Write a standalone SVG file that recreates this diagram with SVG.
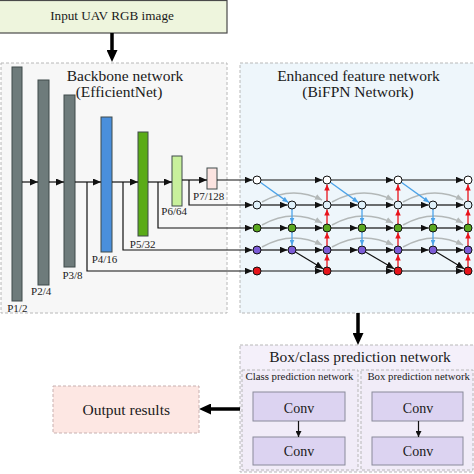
<svg xmlns="http://www.w3.org/2000/svg" width="474" height="474" viewBox="0 0 474 474">
<style>
.t{font-family:"Liberation Serif","Times New Roman",serif;fill:#1a1a1a;text-anchor:middle}
.ttl{font-size:15.5px}
.pl{font-size:11px}
.sub{font-size:10.8px}
.ln{stroke:#111;stroke-width:1.2;fill:none;marker-end:url(#ah)}
.bl{stroke:#4da3e8;stroke-width:1.3;fill:none;marker-end:url(#ahb)}
.rd{stroke:#e8141c;stroke-width:1.3;fill:none;marker-end:url(#ahr)}
.gy{stroke:#b3b8b8;stroke-width:1.6;fill:none;marker-end:url(#ahg)}
.thick{stroke:#000;stroke-width:3.5;fill:none;marker-end:url(#big)}
.cv{stroke:#111;stroke-width:1.2;fill:none;marker-end:url(#ahs)}
.nd{stroke:#111;stroke-width:1}
.w{fill:#ffffff}.lb{fill:#e0f1fa}.g{fill:#5aa81f}.pu{fill:#7b5bd6}.r{fill:#e5141b}
.bar{stroke:#3f4a4a;stroke-width:1}
.grey{fill:#6e7b7b}
.dash{stroke:#b8b8b8;stroke-width:1;stroke-dasharray:3 2}
.conv{fill:#dcd3f1;stroke:#8a8a9a;stroke-width:1}
</style>
<defs>
<marker id="ah" viewBox="0 0 8 7" markerWidth="8" markerHeight="7" refX="8" refY="3.5" orient="auto" markerUnits="userSpaceOnUse"><path d="M0,0 L8,3.5 L0,7z" fill="#111"/></marker>
<marker id="ahs" viewBox="0 0 6 6" markerWidth="6" markerHeight="6" refX="6" refY="3" orient="auto" markerUnits="userSpaceOnUse"><path d="M0,0 L6,3 L0,6z" fill="#111"/></marker>
<marker id="ahb" viewBox="0 0 6 5" markerWidth="6" markerHeight="5" refX="6" refY="2.5" orient="auto" markerUnits="userSpaceOnUse"><path d="M0,0 L6,2.5 L0,5z" fill="#4da3e8"/></marker>
<marker id="ahr" viewBox="0 0 6 5.5" markerWidth="6" markerHeight="5.5" refX="6" refY="2.75" orient="auto" markerUnits="userSpaceOnUse"><path d="M0,0 L6,2.75 L0,5.5z" fill="#e8141c"/></marker>
<marker id="ahg" viewBox="0 0 7 6" markerWidth="7" markerHeight="6" refX="7" refY="3" orient="auto" markerUnits="userSpaceOnUse"><path d="M0,0 L7,3 L0,6z" fill="#b3b8b8"/></marker>
<marker id="big" viewBox="0 0 12 11" markerWidth="12" markerHeight="11" refX="4" refY="5.5" orient="auto" markerUnits="userSpaceOnUse"><path d="M0,0 L12,5.5 L0,11z" fill="#000"/></marker>
</defs>
<rect width="474" height="474" fill="#ffffff"/>

<g id="input">
<rect x="-5" y="0.5" width="232" height="32.5" fill="#eef5dd" stroke="#4a4a4a" stroke-width="1.2"/>
<text class="t" x="112" y="19.5" font-size="13.2">Input UAV RGB image</text>
</g>

<g id="backbone">
<rect x="1" y="63" width="226" height="250" fill="#f7f7f7" class="dash"/>
<text class="t ttl" x="125" y="81">Backbone network</text>
<text class="t ttl" x="119" y="97">(EfficientNet)</text>
</g>

<g id="bifpn">
<rect x="240" y="63" width="240" height="250" fill="#eef6fb" class="dash"/>
<text class="t ttl" x="358.5" y="81">Enhanced feature network</text>
<text class="t ttl" x="358" y="97">(BiFPN Network)</text>
</g>

<g id="p1"><rect class="bar grey" x="12" y="67" width="10" height="234"/><text class="t pl" x="17.3" y="312">P1/2</text></g>
<g id="p2"><rect class="bar grey" x="38" y="80" width="11" height="205"/><text class="t pl" x="41.2" y="294.5">P2/4</text></g>
<g id="p3"><rect class="bar grey" x="64" y="95" width="11" height="172"/><text class="t pl" x="72.5" y="279">P3/8</text></g>
<g id="p4"><rect class="bar" x="101" y="117" width="11" height="135" fill="#4a8fdc" stroke="#2b5b93"/><text class="t pl" x="104.5" y="262.5">P4/16</text></g>
<g id="p5"><rect class="bar" x="138" y="132" width="10" height="104" fill="#5aab17" stroke="#3a7010"/><text class="t pl" x="142.7" y="247.5">P5/32</text></g>
<g id="p6"><rect class="bar" x="172" y="156" width="10" height="50" fill="#c8f09c" stroke="#6a9a40"/><text class="t pl" x="174.2" y="215">P6/64</text></g>
<g id="p7"><rect class="bar" x="207" y="168" width="10" height="21" fill="#fbe3e0" stroke="#777"/><text class="t pl" x="208.7" y="200">P7/128</text></g>

<g id="prediction">
<rect x="240" y="345" width="240" height="127" fill="#f4f0fa" class="dash"/>
<text class="t ttl" x="360" y="361.5">Box/class prediction network</text>
</g>
<g id="class-net">
<rect x="242" y="370" width="116" height="100" fill="#f1ecf8" class="dash"/>
<text class="t sub" x="299.5" y="379.5">Class prediction network</text>
</g>
<g id="box-net">
<rect x="361" y="370" width="112" height="100" fill="#f1ecf8" class="dash"/>
<text class="t sub" x="418.7" y="379.5">Box prediction network</text>
</g>
<g id="conv-c1"><rect class="conv" x="253" y="392" width="92" height="29"/><text class="t" x="299" y="412.5" font-size="14">Conv</text></g>
<g id="conv-c2"><rect class="conv" x="253" y="437" width="92" height="28"/><text class="t" x="299" y="455.5" font-size="14">Conv</text></g>
<g id="conv-b1"><rect class="conv" x="372" y="392" width="91" height="29"/><text class="t" x="418" y="412.5" font-size="14">Conv</text></g>
<g id="conv-b2"><rect class="conv" x="372" y="437" width="91" height="28"/><text class="t" x="418" y="455.5" font-size="14">Conv</text></g>

<g id="output">
<rect x="53" y="386" width="146" height="47" fill="#fde7e3" stroke="#c8b0b0" stroke-width="1" stroke-dasharray="3 2"/>
<text class="t ttl" x="126.3" y="415">Output results</text>
</g>

<g id="connectors">
<path class="thick" d="M112 33 V54"/>
<path class="thick" d="M358 313 V337"/>
<path class="thick" d="M240 409 H207"/>
<path class="cv" d="M298.5 421 V437"/>
<path class="cv" d="M418.5 421 V437"/>

<path class="ln" d="M22 182 H38"/>
<path class="ln" d="M49 182 H64"/>
<path class="ln" d="M75 182 H101"/>
<path class="ln" d="M112 182 H138"/>
<path class="ln" d="M148 182 H172"/>
<path class="ln" d="M182 180 H207"/>
<path class="ln" d="M217 180 H252.5"/>
<path class="ln" d="M189 180 V205 H252.5"/>
<path class="ln" d="M158 182 V228 H252.5"/>
<path class="ln" d="M123 182 V250 H252.5"/>
<path class="ln" d="M87 182 V271 H252.5"/>

<!-- block 0: 257 / 292 / 327 -->
<path class="gy" d="M262 202 Q292 185 322 200"/>
<path class="gy" d="M262 225 Q292 208 322 223"/>
<path class="gy" d="M262 247 Q292 230 322 245"/>
<path class="ln" d="M261 180 H322.5"/>
<path class="ln" d="M261 205 H287.5"/><path class="ln" d="M296 205 H322.5"/>
<path class="ln" d="M261 228 H287.5"/><path class="ln" d="M296 228 H322.5"/>
<path class="ln" d="M261 250 H287.5"/><path class="ln" d="M296 250 H322.5"/>
<path class="ln" d="M261 271 H322.5"/>
<path class="bl" d="M260.3 182.3 L288.3 202.4"/>
<path class="bl" d="M292 209 V223.5"/>
<path class="bl" d="M292 232 V245.5"/>
<path class="ln" d="M295.4 252.1 L323.1 268.7"/>
<path class="rd" d="M327 267 V254.5"/>
<path class="rd" d="M327 246 V232.5"/>
<path class="rd" d="M327 224 V209.5"/>
<path class="rd" d="M327 201 V184.5"/>

<!-- block 1: 327 / 362 / 398 -->
<path class="gy" d="M332 202 Q362 185 393 200"/>
<path class="gy" d="M332 225 Q362 208 393 223"/>
<path class="gy" d="M332 247 Q362 230 393 245"/>
<path class="ln" d="M331 180 H393.5"/>
<path class="ln" d="M331 205 H357.5"/><path class="ln" d="M366 205 H393.5"/>
<path class="ln" d="M331 228 H357.5"/><path class="ln" d="M366 228 H393.5"/>
<path class="ln" d="M331 250 H357.5"/><path class="ln" d="M366 250 H393.5"/>
<path class="ln" d="M331 271 H393.5"/>
<path class="bl" d="M330.3 182.3 L358.3 202.4"/>
<path class="bl" d="M362 209 V223.5"/>
<path class="bl" d="M362 232 V245.5"/>
<path class="ln" d="M365.5 252 L394.1 268.7"/>
<path class="rd" d="M398 267 V254.5"/>
<path class="rd" d="M398 246 V232.5"/>
<path class="rd" d="M398 224 V209.5"/>
<path class="rd" d="M398 201 V184.5"/>

<!-- block 2: 398 / 433 / 468 -->
<path class="gy" d="M403 202 Q433 185 463 200"/>
<path class="gy" d="M403 225 Q433 208 463 223"/>
<path class="gy" d="M403 247 Q433 230 463 245"/>
<path class="ln" d="M402 180 H463.5"/>
<path class="ln" d="M402 205 H428.5"/><path class="ln" d="M437 205 H463.5"/>
<path class="ln" d="M402 228 H428.5"/><path class="ln" d="M437 228 H463.5"/>
<path class="ln" d="M402 250 H428.5"/><path class="ln" d="M437 250 H463.5"/>
<path class="ln" d="M402 271 H463.5"/>
<path class="bl" d="M401.3 182.3 L429.3 202.4"/>
<path class="bl" d="M433 209 V223.5"/>
<path class="bl" d="M433 232 V245.5"/>
<path class="ln" d="M436.4 252.1 L464.1 268.7"/>
<path class="rd" d="M468 267 V254.5"/>
<path class="rd" d="M468 246 V232.5"/>
<path class="rd" d="M468 224 V209.5"/>
<path class="rd" d="M468 201 V184.5"/>
</g>

<g id="n0-1"><circle class="nd w" cx="257" cy="180" r="4"/></g>
<g id="n0-2"><circle class="nd lb" cx="257" cy="205" r="4"/></g>
<g id="n0-3"><circle class="nd g" cx="257" cy="228" r="4"/></g>
<g id="n0-4"><circle class="nd pu" cx="257" cy="250" r="4"/></g>
<g id="n0-5"><circle class="nd r" cx="257" cy="271" r="4"/></g>
<g id="n1-2"><circle class="nd lb" cx="292" cy="205" r="4"/></g>
<g id="n1-3"><circle class="nd g" cx="292" cy="228" r="4"/></g>
<g id="n1-4"><circle class="nd pu" cx="292" cy="250" r="4"/></g>
<g id="n2-1"><circle class="nd w" cx="327" cy="180" r="4"/></g>
<g id="n2-2"><circle class="nd lb" cx="327" cy="205" r="4"/></g>
<g id="n2-3"><circle class="nd g" cx="327" cy="228" r="4"/></g>
<g id="n2-4"><circle class="nd pu" cx="327" cy="250" r="4"/></g>
<g id="n2-5"><circle class="nd r" cx="327" cy="271" r="4"/></g>
<g id="n3-2"><circle class="nd lb" cx="362" cy="205" r="4"/></g>
<g id="n3-3"><circle class="nd g" cx="362" cy="228" r="4"/></g>
<g id="n3-4"><circle class="nd pu" cx="362" cy="250" r="4"/></g>
<g id="n4-1"><circle class="nd w" cx="398" cy="180" r="4"/></g>
<g id="n4-2"><circle class="nd lb" cx="398" cy="205" r="4"/></g>
<g id="n4-3"><circle class="nd g" cx="398" cy="228" r="4"/></g>
<g id="n4-4"><circle class="nd pu" cx="398" cy="250" r="4"/></g>
<g id="n4-5"><circle class="nd r" cx="398" cy="271" r="4"/></g>
<g id="n5-2"><circle class="nd lb" cx="433" cy="205" r="4"/></g>
<g id="n5-3"><circle class="nd g" cx="433" cy="228" r="4"/></g>
<g id="n5-4"><circle class="nd pu" cx="433" cy="250" r="4"/></g>
<g id="n6-1"><circle class="nd w" cx="468" cy="180" r="4"/></g>
<g id="n6-2"><circle class="nd lb" cx="468" cy="205" r="4"/></g>
<g id="n6-3"><circle class="nd g" cx="468" cy="228" r="4"/></g>
<g id="n6-4"><circle class="nd pu" cx="468" cy="250" r="4"/></g>
<g id="n6-5"><circle class="nd r" cx="468" cy="271" r="4"/></g>
</svg>
